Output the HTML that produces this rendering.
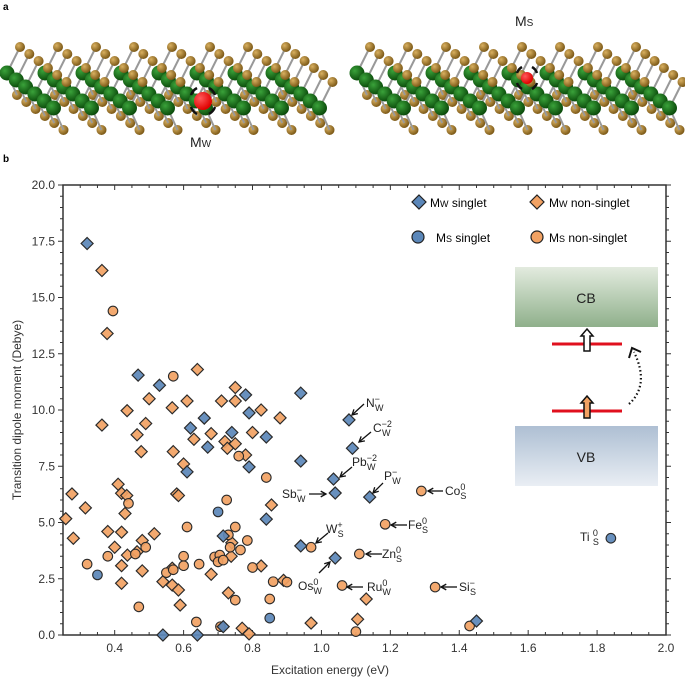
<!DOCTYPE html>
<html><head><meta charset="utf-8">
<style>
html,body{margin:0;padding:0;background:#fff;}
svg{display:block;font-family:"Liberation Sans",sans-serif;}
</style></head>
<body>
<svg id="fig" width="685" height="681" viewBox="0 0 685 681" xmlns="http://www.w3.org/2000/svg">
<defs>
 <radialGradient id="gBrown" cx="35%" cy="35%" r="65%"><stop offset="0" stop-color="#d9b060"/><stop offset="1" stop-color="#7d5a18"/></radialGradient>
 <radialGradient id="gGreen" cx="35%" cy="35%" r="65%"><stop offset="0" stop-color="#3aa23a"/><stop offset="1" stop-color="#0c4d0c"/></radialGradient>
 <radialGradient id="gRed" cx="35%" cy="35%" r="65%"><stop offset="0" stop-color="#ff5a5a"/><stop offset="1" stop-color="#e00000"/></radialGradient>
 <linearGradient id="gCB" x1="0" y1="0" x2="0" y2="1"><stop offset="0" stop-color="#e3ebdf"/><stop offset="1" stop-color="#8fb08b"/></linearGradient>
 <linearGradient id="gVB" x1="0" y1="0" x2="0" y2="1"><stop offset="0" stop-color="#aebfd3"/><stop offset="1" stop-color="#e9eef4"/></linearGradient>
</defs>
<text x="3" y="10" font-size="10" font-weight="bold">a</text>
<text x="3" y="162" font-size="10" font-weight="bold">b</text>
<g id="structL"></g>
<g id="structR"></g>
<text x="190" y="147" font-size="14" fill="#222">M<tspan font-size="10">W</tspan></text>
<text x="515" y="26" font-size="14" fill="#222">M<tspan font-size="10">S</tspan></text>

<g id="axes"></g>
<g id="marks"></g>

<g>
 <g><path d="M419,195 L426,202 L419,209 L412,202Z" fill="#5b87b9" stroke="#222" stroke-width="1.2"/><text x="430" y="207" font-size="12">M<tspan font-size="9">W</tspan> singlet</text></g>
 <g><path d="M537,195 L544,202 L537,209 L530,202Z" fill="#f2a263" stroke="#222" stroke-width="1.2"/><text x="549" y="207" font-size="12">M<tspan font-size="9">W</tspan> non-singlet</text></g>
 <g><circle cx="418" cy="237" r="6" fill="#5b87b9" stroke="#222" stroke-width="1.2"/><text x="436" y="242" font-size="12">M<tspan font-size="9">S</tspan> singlet</text></g>
 <g><circle cx="537" cy="237" r="6" fill="#f2a263" stroke="#222" stroke-width="1.2"/><text x="549" y="242" font-size="12">M<tspan font-size="9">S</tspan> non-singlet</text></g>
</g>

<g>
 <rect x="515" y="267" width="143" height="60" fill="url(#gCB)"/>
 <text x="586" y="303" font-size="14" text-anchor="middle" fill="#222">CB</text>
 <rect x="515" y="426" width="143" height="60" fill="url(#gVB)"/>
 <text x="586" y="462" font-size="14" text-anchor="middle" fill="#222">VB</text>
 <line x1="552" y1="344" x2="622" y2="344" stroke="#e0101e" stroke-width="3"/>
 <line x1="552" y1="411" x2="622" y2="411" stroke="#e0101e" stroke-width="3"/>
 <path d="M587,329 L593,336 L590,336 L590,351 L584,351 L584,336 L581,336Z" fill="#fff" stroke="#111" stroke-width="1.5"/>
 <path d="M587,396 L593,403 L590,403 L590,418 L584,418 L584,403 L581,403Z" fill="#f2a263" stroke="#111" stroke-width="1.5"/>
 <path d="M629,404 Q650,385 634,352" fill="none" stroke="#111" stroke-width="2.2" stroke-dasharray="1.5,2.5"/>
 <path d="M629,358 L632,348 L641,352" fill="none" stroke="#111" stroke-width="2"/>
</g>

<g id="annot" font-size="12" fill="#222"></g>
</svg>
<script>
// ---- data ----
const mwSingletX = [0.32,0.468,0.53,0.78,0.94,0.79,0.66,0.62,0.74,0.84,0.67,0.79,0.61,0.94,1.08,1.09,1.035,1.04,1.14,0.715,0.84,0.94,1.04,0.715,0.54,0.64,1.45];
const mwSingletY = [17.4,11.55,11.1,10.67,10.75,9.87,9.64,9.2,9.0,8.8,8.35,7.47,7.25,7.73,9.56,8.3,6.93,6.31,6.13,4.4,5.15,3.96,3.42,0.37,0.0,0.0,0.62];
const msSingletX = [0.35,0.70,0.85,1.84];
const msSingletY = [2.67,5.47,0.75,4.3];
const mwNonX = [0.363,0.378,0.64,0.75,0.5,0.436,0.567,0.61,0.71,0.75,0.825,0.88,0.363,0.49,0.465,0.63,0.68,0.8,0.72,0.75,0.727,0.477,0.57,0.78,0.6,0.41,0.42,0.276,0.58,0.855,0.258,0.28,0.315,0.38,0.4,0.42,0.435,0.43,0.42,0.437,0.465,0.48,0.515,0.42,0.48,0.567,0.54,0.567,0.585,0.59,0.585,0.68,0.738,0.73,0.77,0.79,0.825,0.89,0.97,1.13,1.105,0.74];
const mwNonY = [16.2,13.4,11.8,11.0,10.5,9.97,10.1,10.4,10.4,10.4,10.0,9.65,9.33,9.4,8.9,8.7,8.95,9.0,8.6,8.5,8.3,8.15,8.15,8.0,7.6,6.7,6.3,6.27,6.27,5.78,5.17,4.3,5.65,4.6,3.9,3.08,6.2,5.4,4.57,3.55,3.7,4.2,4.5,2.3,2.85,2.97,2.37,2.22,2.0,1.33,6.2,2.7,3.5,1.87,0.3,0.05,3.07,2.43,0.53,1.6,0.7,4.1];
const msNonX = [0.395,0.57,0.76,0.84,0.725,0.38,0.32,0.44,0.46,0.49,0.47,0.55,0.57,0.61,0.6,0.6,0.645,0.637,0.707,0.69,0.705,0.70,0.715,0.735,0.73,0.75,0.765,0.785,0.75,0.8,0.85,0.86,0.9,0.97,1.06,1.29,1.185,1.11,1.33,1.1,1.43];
const msNonY = [14.4,11.5,7.95,7.0,6.0,3.5,3.15,5.85,3.6,3.9,1.25,2.77,2.9,4.8,3.5,3.08,3.15,0.58,0.37,3.47,3.55,3.25,3.33,3.9,4.45,4.8,3.78,4.2,1.55,3.0,1.6,2.37,2.35,3.9,2.2,6.4,4.92,3.6,2.13,0.15,0.4];
const xTicks = [0.4,0.6,0.8,1.0,1.2,1.4,1.6,1.8,2.0];
const xTickLabels = ["0.4","0.6","0.8","1.0","1.2","1.4","1.6","1.8","2.0"];
const yTicks = [0,2.5,5,7.5,10,12.5,15,17.5,20];
const yTickLabels = ["0.0","2.5","5.0","7.5","10.0","12.5","15.0","17.5","20.0"];

const NS="http://www.w3.org/2000/svg";
const L=63,R=666,T=185,B=635, X0=0.25,X1=2.0,Y0=0,Y1=20;
function sx(v){return L+(v-X0)/(X1-X0)*(R-L);}
function sy(v){return B-(v-Y0)/(Y1-Y0)*(B-T);}
function mk(tag,attrs,parent){const e=document.createElementNS(NS,tag);for(const k in attrs)e.setAttribute(k,attrs[k]);parent.appendChild(e);return e;}

// ---- structures (decorative) ----
function drawStruct(g,ox,oy){
  const low=[],green=[],top=[];
  for(let i=0;i<8;i++)for(let j=0;j<6;j++){
    const bx=ox+20+38*i+9.3*j, by=oy+47+7*j;
    top.push([bx,by]);green.push([bx-13,by+26]);low.push([bx-3,by+48]);
  }
  low.forEach(p=>{mk('circle',{cx:p[0],cy:p[1],r:5,fill:'url(#gBrown)'},g);});
  green.forEach((p,k)=>{mk('line',{x1:p[0],y1:p[1],x2:top[k][0],y2:top[k][1],stroke:'#999','stroke-width':2},g);
    mk('line',{x1:p[0],y1:p[1],x2:low[k][0],y2:low[k][1],stroke:'#999','stroke-width':2},g);});
  green.forEach(p=>{mk('circle',{cx:p[0],cy:p[1],r:7.5,fill:'url(#gGreen)'},g);});
  top.forEach(p=>{mk('circle',{cx:p[0],cy:p[1],r:5,fill:'url(#gBrown)'},g);});
}
const sL=document.getElementById('structL'), sR=document.getElementById('structR');
drawStruct(sL,0,0);drawStruct(sR,350,0);
mk('circle',{cx:203,cy:101,r:9,fill:'url(#gRed)'},sL);
mk('path',{d:'M191,95 A13,13 0 0 1 197,88 M209,88 A13,13 0 0 1 215,95 M215,107 A13,13 0 0 1 209,114 M197,114 A13,13 0 0 1 191,107',fill:'none',stroke:'#111','stroke-width':2.5},sL);
mk('circle',{cx:527,cy:78,r:6,fill:'url(#gRed)'},sR);
mk('path',{d:'M517,73 A11,11 0 0 1 522,67 M532,67 A11,11 0 0 1 537,73 M537,83 A11,11 0 0 1 532,89 M522,89 A11,11 0 0 1 517,83',fill:'none',stroke:'#111','stroke-width':2.5},sR);

// ---- axes ----
const ax=document.getElementById('axes');
mk('rect',{x:L,y:T,width:R-L,height:B-T,fill:'none',stroke:'#333','stroke-width':1.5},ax);
for(let v=0.25;v<=2.0001;v+=0.05){const x=sx(v);const maj=xTicks.some(t=>Math.abs(t-v)<1e-6);const len=maj?5:3;
  mk('line',{x1:x,y1:B,x2:x,y2:B-len,stroke:'#333','stroke-width':1},ax);mk('line',{x1:x,y1:T,x2:x,y2:T+len,stroke:'#333','stroke-width':1},ax);}
for(let v=0;v<=20.0001;v+=0.5){const y=sy(v);const maj=yTicks.some(t=>Math.abs(t-v)<1e-6);const len=maj?5:3;
  mk('line',{x1:L,y1:y,x2:L-len,y2:y,stroke:'#333','stroke-width':1},ax);mk('line',{x1:R,y1:y,x2:R+len,y2:y,stroke:'#333','stroke-width':1},ax);}
xTicks.forEach((v,i)=>{const t=mk('text',{x:sx(v),y:B+17,'font-size':12,'text-anchor':'middle',fill:'#333'},ax);t.textContent=xTickLabels[i];
  
  });
yTicks.forEach((v,i)=>{const t=mk('text',{x:L-8,y:sy(v)+4,'font-size':12,'text-anchor':'end',fill:'#333'},ax);t.textContent=yTickLabels[i];
  
  });
const xt=mk('text',{x:330,y:674,'font-size':12,'text-anchor':'middle',fill:'#333'},ax);xt.textContent='Excitation energy (eV)';


const yt=mk('text',{x:0,y:0,'font-size':12,'text-anchor':'middle',fill:'#333',transform:'translate(21,410) rotate(-90)'},ax);yt.textContent='Transition dipole moment (Debye)';



// ---- marks ----
const mg=document.getElementById('marks');
function diamond(x,y,fill,name){const px=sx(x),py=sy(y),s=6;
  const p=mk('path',{d:`M${px},${py-s} L${px+s},${py} L${px},${py+s} L${px-s},${py}Z`,fill:fill,stroke:'#2a2a2a','stroke-width':1.2,'fill-opacity':0.92},mg);
  
  }
function circ(x,y,fill,name){const c=mk('circle',{cx:sx(x),cy:sy(y),r:4.8,fill:fill,stroke:'#2a2a2a','stroke-width':1.1,'fill-opacity':0.92},mg);
  
  }
mwNonX.forEach((x,i)=>diamond(x,mwNonY[i],'#f2a263','mw-nonsinglet-point'));
msNonX.forEach((x,i)=>circ(x,msNonY[i],'#f2a263','ms-nonsinglet-point'));
mwSingletX.forEach((x,i)=>diamond(x,mwSingletY[i],'#5b87b9','mw-singlet-point'));
msSingletX.forEach((x,i)=>circ(x,msSingletY[i],'#5b87b9','ms-singlet-point'));

// ---- annotations ----
const an=document.getElementById('annot');
function arrow(x1,y1,x2,y2){mk('line',{x1:x1,y1:y1,x2:x2,y2:y2,stroke:'#111','stroke-width':1.3},an);
  const a=Math.atan2(y2-y1,x2-x1),h=6;
  mk('path',{d:`M${x2-h*Math.cos(a-0.5)},${y2-h*Math.sin(a-0.5)} L${x2},${y2} L${x2-h*Math.cos(a+0.5)},${y2-h*Math.sin(a+0.5)}`,fill:'none',stroke:'#111','stroke-width':1.3},an);}
function label(x,y,base,sup,sub,name){const t=mk('text',{x:x,y:y,'font-size':12},an);
  t.innerHTML=base+`<tspan font-size="9" dy="-5">${sup}</tspan><tspan font-size="9" dx="-${sup.length*5}" dy="9">${sub}</tspan>`;
  
  }
arrow(364,404,352,415);label(366,407,'N','−','W','label-n-w');
arrow(371,432,359,442);label(373,432,'C','−2','W','label-c-w');
arrow(352,467,340,477);label(352,466,'Pb','−2','W','label-pb-w');
arrow(309,494,326,494);label(282,498,'Sb','−','W','label-sb-w');
arrow(383,483,373,493);label(384,480,'P','−','W','label-p-w');
arrow(443,491,428,491);label(445,495,'Co','0','S','label-co-s');
arrow(407,525,391,525);label(408,529,'Fe','0','S','label-fe-s');
arrow(328,533,316,543);label(326,533,'W','+','S','label-w-s');
arrow(382,554,366,554);label(382,558,'Zn','0','S','label-zn-s');
arrow(319,573,330,562);label(298,590,'Os','0','W','label-os-w');
arrow(363,587,347,587);label(367,591,'Ru','0','W','label-ru-w');
arrow(457,587,441,587);label(459,591,'Si','−','S','label-si-s');
label(580,541,'Ti ','0','S','label-ti-s');
</script>
</body></html>
